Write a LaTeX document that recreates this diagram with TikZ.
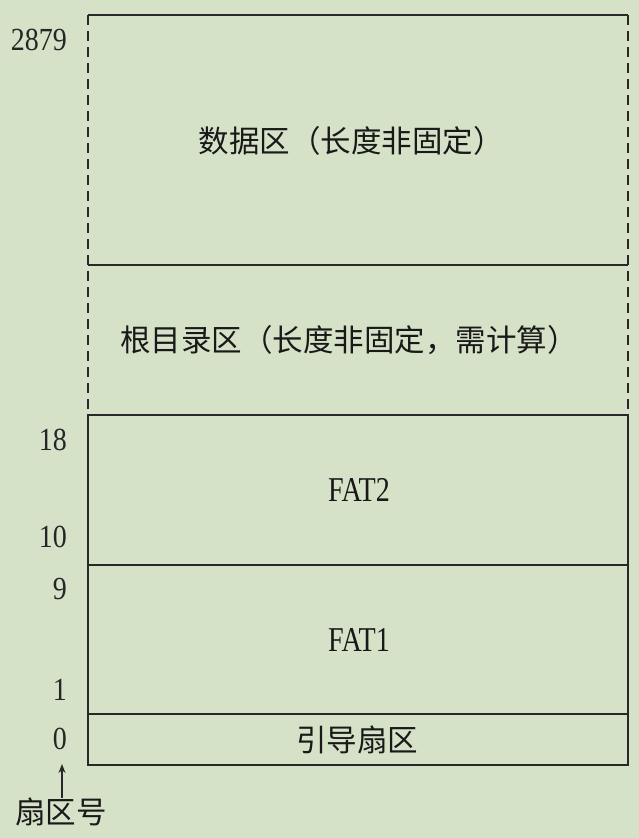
\documentclass[tikz,border=0pt]{standalone}
\usepackage{fontspec}
\usetikzlibrary{arrows.meta}
\setmainfont{Liberation Serif}
\newfontfamily\cjk{Noto Sans CJK SC}
\definecolor{bg}{RGB}{213,226,200}
\definecolor{ln}{RGB}{40,40,40}
\begin{document}
\begin{tikzpicture}[x=1pt,y=-1pt,
  region/.style={minimum width=540pt,inner sep=0pt,outer sep=0pt},
  cjktext/.style={inner sep=0pt,font=\cjk\fontsize{30.5}{34}\selectfont,text=black!90},
  latin/.style={inner sep=0pt,font=\fontsize{29}{32}\selectfont,text=black!90},
  num/.style={anchor=east,inner sep=0pt,font=\fontsize{28}{30}\selectfont,text=black!85},
  edgeline/.style={draw=ln,line width=1.1pt},
  dashedge/.style={draw=ln,line width=1.1pt,dash pattern=on 10pt off 6pt}]
\fill[bg] (0,0) rectangle (639,838);
\useasboundingbox (0,0) rectangle (639,838);
% regions (frames)
\node[region,minimum height=250pt] (data) at (358,140) {};
\node[region,minimum height=150pt] (root) at (358,340) {};
\node[region,minimum height=150pt] (fat2) at (358,490) {};
\node[region,minimum height=149pt] (fat1) at (358,639.5) {};
\node[region,minimum height=51pt] (boot) at (358,739.5) {};
% region texts
\node[cjktext] (tdata) at (351,141) {数据区（长度非固定）};
\node[cjktext] (troot) at (349,340) {根目录区（长度非固定，需计算）};
\node[latin] (tfat2) at (359,490) {\scalebox{0.97}[1.2]{FAT2}};
\node[latin] (tfat1) at (359,640) {\scalebox{0.97}[1.2]{FAT1}};
\node[cjktext] (tboot) at (357,740) {引导扇区};
% outlines
\draw[edgeline] (data.north west) -- (data.north east);
\draw[edgeline] (root.north west) -- (root.north east);
\draw[dashedge] (data.north west) -- (root.south west);
\draw[dashedge] (data.north east) -- (root.south east);
\draw[edgeline] (fat2.north west) rectangle (boot.south east);
\draw[edgeline] (fat2.south west) -- (fat2.south east);
\draw[edgeline] (fat1.south west) -- (fat1.south east);
% sector numbers
\node[num] (n2879) at (67,40) {\scalebox{1}[1.15]{2879}};
\node[num] (n18) at (67,440) {\scalebox{1}[1.15]{18}};
\node[num] (n10) at (67,537) {\scalebox{1}[1.15]{10}};
\node[num] (n9) at (67,589) {\scalebox{1}[1.15]{9}};
\node[num] (n1) at (67,690) {\scalebox{1}[1.15]{1}};
\node[num] (n0) at (67,739) {\scalebox{1}[1.15]{0}};
\node[cjktext] (lbl) at (61,812) {扇区号};
\coordinate (tip) at (62,764);
\draw[ln,line width=1.2pt,-{Stealth[length=9pt,width=7pt]}] (lbl.north -| tip) -- (tip);
\end{tikzpicture}
\end{document}
